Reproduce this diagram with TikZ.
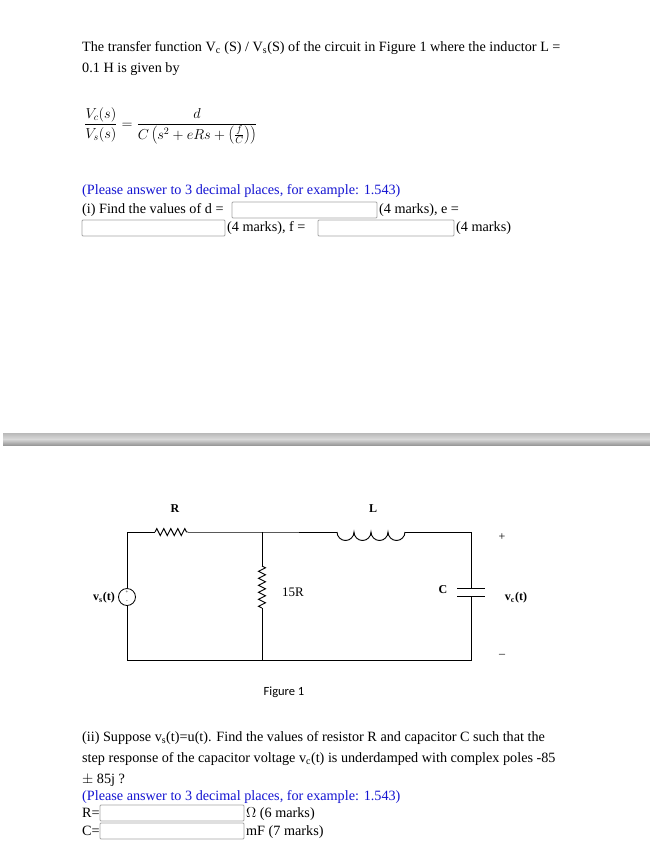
\documentclass[tikz,border=0pt]{standalone}
\usepackage{fontspec}
\setmainfont{Liberation Serif}
\newfontfamily\figfont{Carlito}
\usetikzlibrary{decorations.pathmorphing}
\definecolor{qblue}{RGB}{20,20,210}
\begin{document}
\begin{tikzpicture}[x=1pt,y=-1pt,
  txt/.style={anchor=base west,inner sep=0pt,font=\fontsize{14.2}{16}\selectfont},
  bluetxt/.style={txt,text=qblue},
  ansbox/.style={draw=gray!70,line width=0.8pt,rounded corners=1pt},
  wire/.style={line width=0.9pt},
  lbl/.style={inner sep=0pt,font=\fontsize{12}{14}\selectfont\bfseries}]
\useasboundingbox (0,0) rectangle (650,863);
\fill[white] (0,0) rectangle (650,863);
% header text
\node[txt] (l1) at (82,51) {The transfer function V\textsubscript{c} (S) / V\textsubscript{s}(S) of the circuit in Figure 1 where the inductor L =};
\node[txt] (l2) at (82,72) {0.1 H is given by};
\node[anchor=west,inner sep=0pt,font=\fontsize{14}{16}\selectfont] (eq) at (84,126)
 {$\displaystyle\frac{V_c(s)}{V_s(s)}=\frac{d}{C\left(s^2+eRs+\left(\frac{f}{C}\right)\right)}$};
\node[bluetxt] (b1) at (82,194) {(Please answer to 3 decimal places, for example: 1.543)};
\node[txt] (i1) at (82,213) {(i) Find the values of d =};
\draw[ansbox] (232,202) rectangle (377,218);
\node[txt] (i2) at (379,213) {(4 marks), e =};
\draw[ansbox] (82,220) rectangle (225,236);
\node[txt] (i3) at (227,231) {(4 marks), f =};
\draw[ansbox] (318,220) rectangle (454,236);
\node[txt] (i4) at (456,231) {(4 marks)};
% gray bar
\shade[top color=gray!55,bottom color=gray!80,middle color=gray!30] (3,433) rectangle (650,445);
% circuit
\coordinate (tl) at (127,532); \coordinate (tm) at (262,532); \coordinate (tr) at (471,532);
\coordinate (bl) at (127,660); \coordinate (bm) at (262,660); \coordinate (br) at (471,660);
\node[draw,circle,minimum size=17pt,inner sep=0pt,line width=0.8pt] (src) at (127,597) {};
\node[font=\tiny,inner sep=0pt] at (127,592) {+};
\node[font=\tiny,inner sep=0pt] at (127,602) {-};
\draw[wire] (src.north) -- (tl) -- (155,532);
\draw[wire,decorate,decoration={zigzag,segment length=7pt,amplitude=3.5pt}] (155,532) -- (188,532);
\draw[wire] (188,532) -- (tm) -- (337,532);
\draw[wire] (337,532) \foreach \i in {0,1,2,3} { arc[start angle=180,end angle=0,radius=8.5] };
\draw[wire] (405,532) -- (tr) -- (471,588);
\draw[wire] (457,588) -- (485,588); \draw[wire] (457,596) -- (485,596);
\draw[wire] (471,596) -- (br) -- (bl) -- (src.south);
\draw[wire] (tm) -- (262,566);
\draw[wire,decorate,decoration={zigzag,segment length=7pt,amplitude=3.5pt}] (262,566) -- (262,608);
\draw[wire] (262,608) -- (bm);
\node[lbl] (Rl) at (175,509) {R};
\node[lbl] (Ll) at (373,509) {L};
\node[lbl,font=\fontsize{13}{15}\selectfont] (R15) at (293,592) {15R};
\node[lbl] (Cl) at (443,590) {C};
\node[lbl] (vs) at (104,598) {v\textsubscript{s}(t)};
\node[lbl] (vc) at (516,598) {v\textsubscript{c}(t)};
\node[lbl,font=\large] (pl) at (502,537) {+};
\node[lbl,font=\large] (mi) at (502,656) {\textendash};
\node[inner sep=0pt,font=\figfont\fontsize{12.5}{14}\selectfont] (fig) at (284,692) {Figure 1};
% part ii
\node[txt] (ii1) at (82,741) {(ii) Suppose v\textsubscript{s}(t)=u(t). Find the values of resistor R and capacitor C such that the};
\node[txt] (ii2) at (82,762) {step response of the capacitor voltage v\textsubscript{c}(t) is underdamped with complex poles -85};
\node[txt] (ii3) at (82,783) {$\pm$ 85j ?};
\node[bluetxt] (b2) at (82,800) {(Please answer to 3 decimal places, for example: 1.543)};
\node[txt] (r1) at (82,817) {R=};
\draw[ansbox] (100,805) rectangle (244,821);
\node[txt] (r2) at (246,817) {$\Omega$ (6 marks)};
\node[txt] (c1) at (82,835) {C=};
\draw[ansbox] (100,823) rectangle (244,839);
\node[txt] (c2) at (246,835) {mF (7 marks)};
\end{tikzpicture}
\end{document}
